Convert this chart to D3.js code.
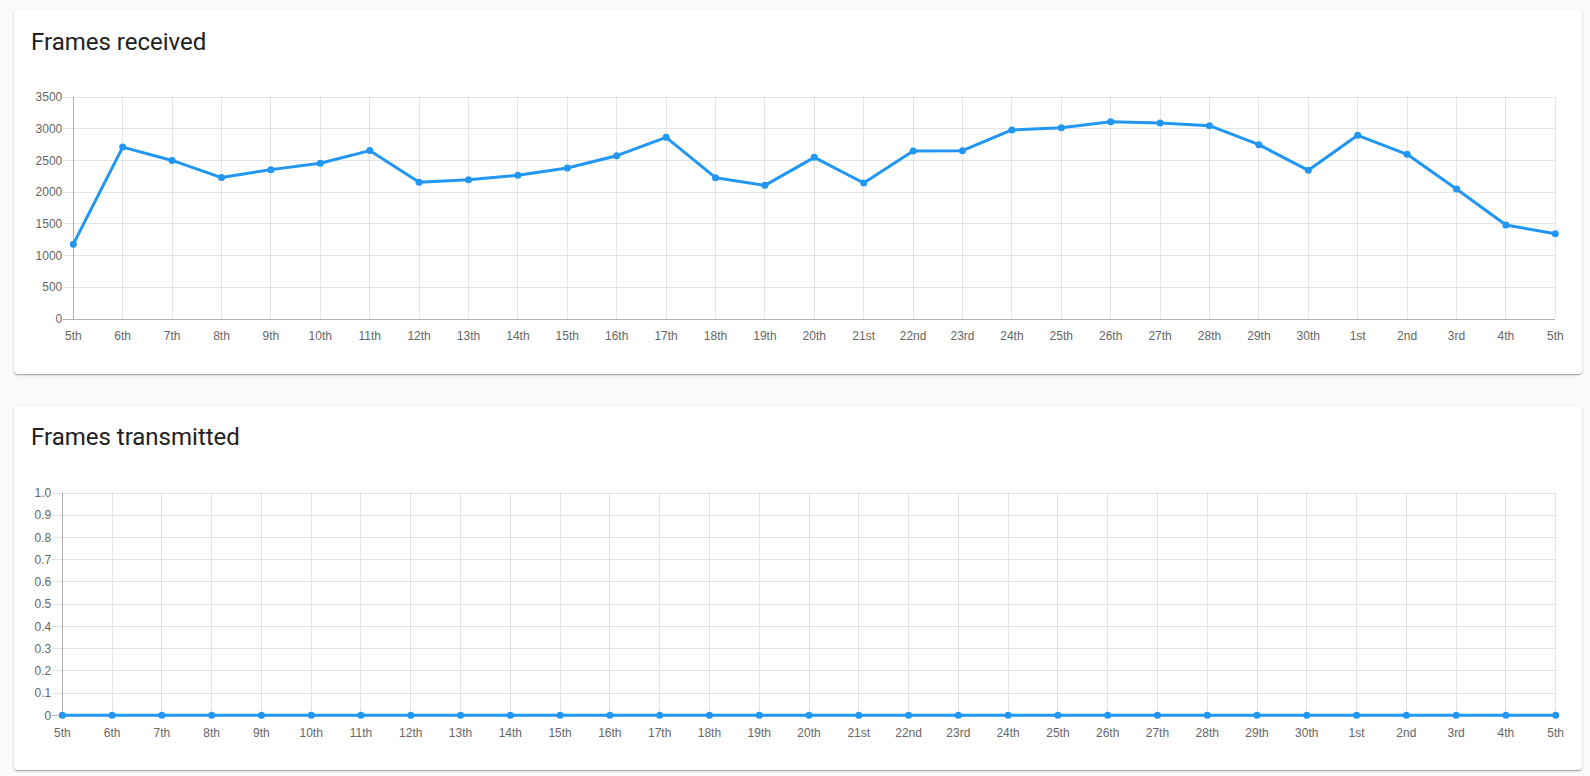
<!DOCTYPE html>
<html>
<head>
<meta charset="utf-8">
<script src="https://cdn.jsdelivr.net/npm/d3@7"></script>
<style>
  html, body { margin: 0; padding: 0; background: #fafafa; width: 1590px; height: 776px; overflow: hidden; }
  .card { position: absolute; background: #fff; border-radius: 4px;
    box-shadow: 0 1px 3px rgba(0,0,0,0.2), 0 1px 1px rgba(0,0,0,0.14), 0 2px 1px -1px rgba(0,0,0,0.12); }
  svg { position: absolute; left: 0; top: 0; }
</style>
</head>
<body>
<div class="card" style="left:14px; top:10px; width:1568px; height:364px;"></div>
<div class="card" style="left:14px; top:406px; width:1568px; height:364px;"></div>
<svg id="chart" width="1590" height="776"></svg>
<script>
const days = ["5th","6th","7th","8th","9th","10th","11th","12th","13th","14th","15th","16th","17th","18th","19th","20th","21st","22nd","23rd","24th","25th","26th","27th","28th","29th","30th","1st","2nd","3rd","4th","5th"];
const framesReceived = [1180,2710,2500,2230,2355,2455,2655,2155,2197,2265,2381,2575,2864,2228,2107,2549,2144,2649,2654,2980,3017,3111,3090,3048,2748,2344,2896,2596,2050,1482,1345];
const framesTransmitted = [0,0,0,0,0,0,0,0,0,0,0,0,0,0,0,0,0,0,0,0,0,0,0,0,0,0,0,0,0,0,0];
const receivedTicks = [0,500,1000,1500,2000,2500,3000,3500];
const transmittedTicks = [0,0.1,0.2,0.3,0.4,0.5,0.6,0.7,0.8,0.9,1.0];

const svg = d3.select("#chart");
const blue = "#2196F3";

function drawChart(cfg) {
  const g = svg.append("g");
  g.append("text").attr("x", 31).attr("y", cfg.titleY)
    .attr("font-family", "Roboto, sans-serif").attr("font-size", 24)
    .attr("fill", "#212121").text(cfg.title);

  const idx = d3.range(days.length);
  const x = d3.scaleLinear().domain([0, days.length - 1]).range([cfg.x0, cfg.x1]);
  const y = d3.scaleLinear().domain([0, cfg.max]).range([cfg.y1, cfg.y0]);

  // vertical grid
  g.append("g").selectAll("line").data(idx.slice(1)).join("line")
    .attr("x1", d => x(d)).attr("x2", d => x(d))
    .attr("y1", cfg.y0).attr("y2", cfg.y1)
    .attr("stroke", "rgba(0,0,0,0.1)").attr("shape-rendering", "crispEdges");
  // horizontal grid (with tick marks)
  g.append("g").selectAll("line").data(cfg.ticks.slice(1)).join("line")
    .attr("x1", cfg.x0 - 10).attr("x2", cfg.x1)
    .attr("y1", d => y(d)).attr("y2", d => y(d))
    .attr("stroke", "rgba(0,0,0,0.1)").attr("shape-rendering", "crispEdges");
  // zero line & axis
  g.append("line").attr("x1", cfg.x0 - 10).attr("x2", cfg.x1)
    .attr("y1", y(0)).attr("y2", y(0))
    .attr("stroke", "rgba(0,0,0,0.3)").attr("shape-rendering", "crispEdges");
  g.append("line").attr("x1", cfg.x0).attr("x2", cfg.x0)
    .attr("y1", cfg.y0).attr("y2", cfg.y1)
    .attr("stroke", "rgba(0,0,0,0.3)").attr("shape-rendering", "crispEdges");

  // y labels
  g.append("g").selectAll("text").data(cfg.ticks).join("text")
    .attr("x", cfg.x0 - 11).attr("y", d => y(d)).attr("dy", "0.35em")
    .attr("text-anchor", "end")
    .attr("font-family", "'Liberation Sans', Arial, sans-serif").attr("font-size", 12)
    .attr("fill", "#666").text(cfg.fmt);
  // x labels
  g.append("g").selectAll("text").data(idx).join("text")
    .attr("x", d => x(d)).attr("y", cfg.y1 + 17).attr("dy", "0.35em")
    .attr("text-anchor", "middle")
    .attr("font-family", "'Liberation Sans', Arial, sans-serif").attr("font-size", 12)
    .attr("fill", "#666").text(d => days[d]);

  const line = d3.line().x((d, i) => x(i)).y(d => y(d));
  g.append("path").datum(cfg.values).attr("d", line)
    .attr("fill", "none").attr("stroke", blue).attr("stroke-width", 3)
    .attr("stroke-linejoin", "round");
  g.append("g").selectAll("circle").data(cfg.values).join("circle")
    .attr("cx", (d, i) => x(i)).attr("cy", d => y(d)).attr("r", 3.5)
    .attr("fill", blue);
}

drawChart({
  title: "Frames received", titleY: 50,
  x0: 73.3, x1: 1555.3, y0: 97, y1: 319, max: 3500,
  ticks: receivedTicks, values: framesReceived, fmt: d => String(d)
});
drawChart({
  title: "Frames transmitted", titleY: 445,
  x0: 62.3, x1: 1555.7, y0: 493, y1: 715.3, max: 1.0,
  ticks: transmittedTicks, values: framesTransmitted,
  fmt: d => d === 0 ? "0" : d3.format(".1f")(d)
});
</script>
</body>
</html>
